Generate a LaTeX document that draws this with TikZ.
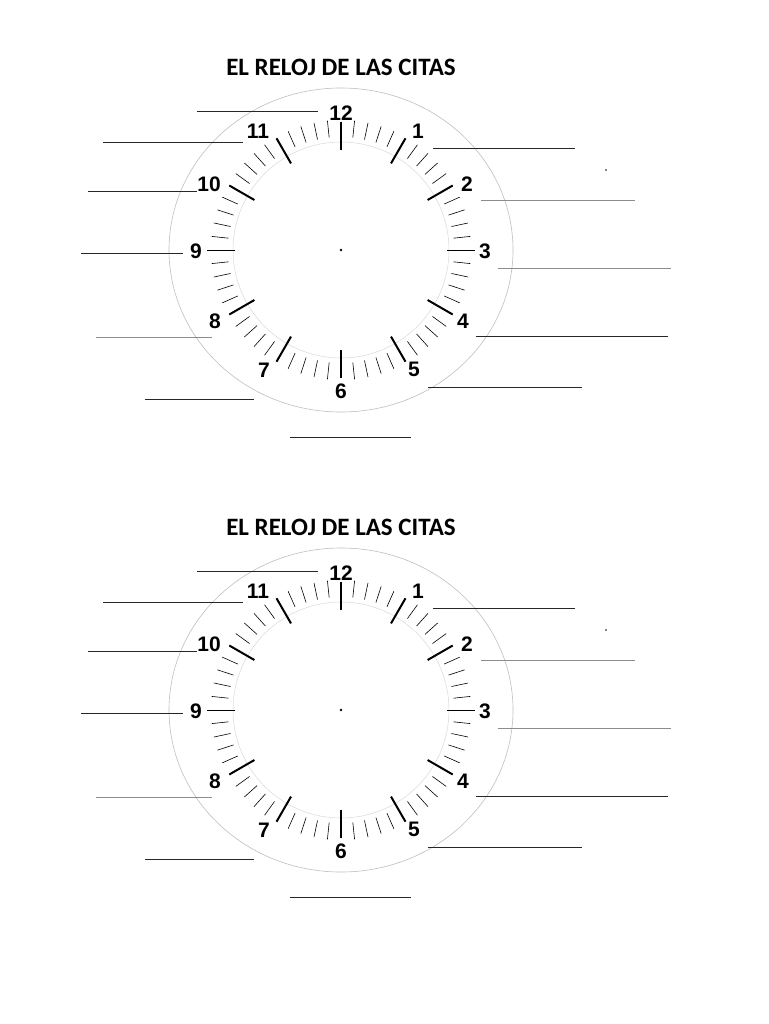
\documentclass[tikz,border=0pt]{standalone}
\usetikzlibrary{calc}
\usepackage{fontspec}
\setmainfont{Liberation Sans}
\newfontfamily\titlefont{Carlito}
\begin{document}
\begin{tikzpicture}[x=1pt,y=-1pt,
  blank/.style={line width=0.9pt,black!85},
  blankg/.style={line width=0.6pt,black!45},
  num/.style={font=\bfseries\fontsize{21}{21}\selectfont,inner sep=0pt},
  ttl/.style={font=\titlefont\bfseries\fontsize{25}{25}\selectfont,inner sep=0pt}]
\useasboundingbox (0,0) rectangle (768,1024);
\fill[white] (0,0) rectangle (768,1024);
\foreach \dy/\k in {0/a,460/b}{
\begin{scope}[yshift=-\dy pt]
 \node[ttl] (title\k) at (341,67) {EL RELOJ DE LAS CITAS};
 \coordinate (c\k) at (341,250);
 \draw[black!25,line width=0.6pt] (c\k) ellipse [x radius=172,y radius=162];
 \draw[black!15,line width=0.5pt] (c\k) circle [radius=108];
 \fill (c\k) circle [radius=1.3];
 \foreach \m in {0,...,59}{
   \pgfmathsetmacro\ang{90-6*\m}
   \pgfmathtruncatemacro\r{mod(\m,5)}
   \ifnum\r=0\else
     \draw[line width=0.6pt] ($(c\k)+(\ang:113)$) -- ($(c\k)+(\ang:130)$);
   \fi
 }
 \foreach \h in {1,2,4,5,7,8,10,11}{
   \draw[line width=2pt] ($(c\k)+(90-30*\h:100)$) -- ($(c\k)+(90-30*\h:129)$);
 }
 \draw[line width=2pt] ($(c\k)+(90:100)$) -- ($(c\k)+(90:128)$);
 \draw[line width=2pt] ($(c\k)+(-90:100)$) -- ($(c\k)+(-90:128)$);
 \draw[line width=1pt] ($(c\k)+(0:106)$) -- ($(c\k)+(0:134)$);
 \draw[line width=1pt] ($(c\k)+(180:106)$) -- ($(c\k)+(180:134)$);
 \node[num] (n12\k) at (341,113) {12};
 \node[num] (n1\k) at (418,131) {1};
 \node[num] (n2\k) at (467,184) {2};
 \node[num] (n3\k) at (485,251) {3};
 \node[num] (n4\k) at (463,321) {4};
 \node[num] (n5\k) at (414,369) {5};
 \node[num] (n6\k) at (341,391) {6};
 \node[num] (n7\k) at (264,370) {7};
 \node[num] (n8\k) at (215,321) {8};
 \node[num] (n9\k) at (196,251) {9};
 \node[num] (n10\k) at (209,184) {10};
 \node[num] (n11\k) at (258,131) {11};
 \draw[blank] (197,111) -- (318,111);
 \draw[blank] (103,142) -- (243,142);
 \draw[blank] (88,191) -- (197,191);
 \draw[blank] (81,253) -- (183,253);
 \draw[blankg] (96,337) -- (212,337);
 \draw[blank] (145,399) -- (254,399);
 \draw[blank] (290,437) -- (411,437);
 \draw[blank] (433,148) -- (575,148);
 \draw[blankg] (481,200) -- (635,200);
 \draw[blankg] (498,268) -- (671,268);
 \draw[blank] (476,336) -- (668,336);
 \draw[blank] (428,387) -- (582,387);
 \fill (606,170) circle [radius=0.8];
\end{scope}}
\end{tikzpicture}
\end{document}
